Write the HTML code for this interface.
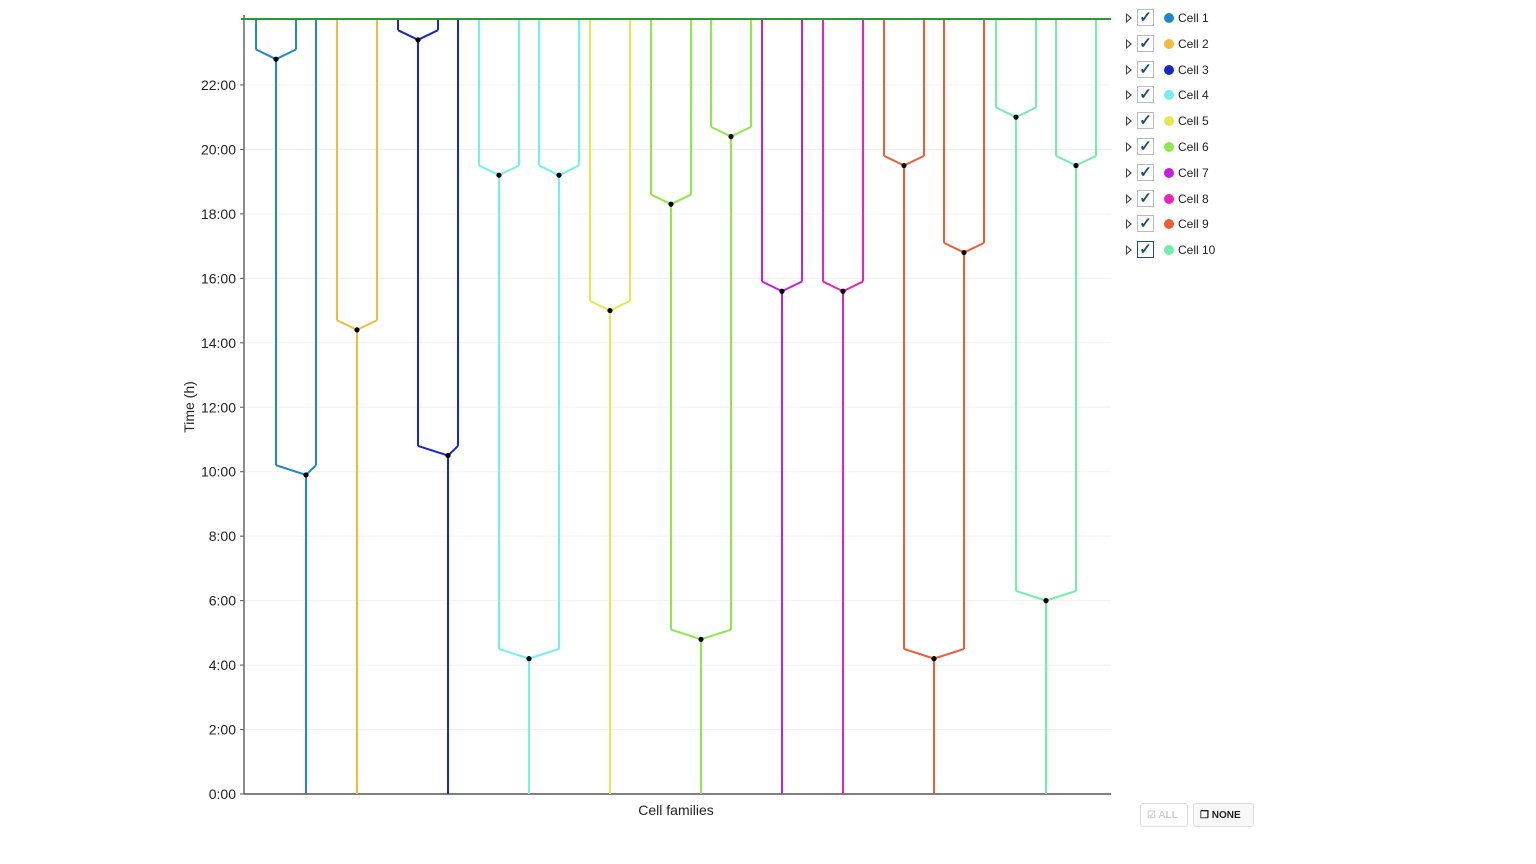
<!DOCTYPE html>
<html><head><meta charset="utf-8">
<style>
body{margin:0;width:1536px;height:864px;background:#fff;font-family:"Liberation Sans",sans-serif;overflow:hidden;position:relative}
#legend{position:absolute;left:1124px;top:8px}
.li{position:absolute;left:0;height:20px;width:120px}
.tri{position:absolute;left:2px;top:5px;width:0;height:0;border-left:6px solid #444;border-top:5px solid transparent;border-bottom:5px solid transparent}
.tri:after{content:"";position:absolute;left:-5px;top:-3px;border-left:3px solid #fff;border-top:3px solid transparent;border-bottom:3px solid transparent}
.cb{position:absolute;left:13px;top:1px;width:17px;height:17px;border:1px solid #bbb;box-sizing:border-box;color:#1a4f7a;font-size:15px;line-height:16px;text-align:center;font-weight:bold}
.dot{position:absolute;left:40px;top:5px;width:10px;height:10px;border-radius:50%}
.lbl{position:absolute;left:54px;top:3px;font-size:12px;color:#222}
.btn{position:absolute;top:803px;height:24px;border:1px solid #ddd;border-radius:3px;font-size:10px;font-weight:bold;line-height:24px;box-sizing:border-box}
</style></head><body>
<svg id="chart" width="1536" height="864" style="position:absolute;left:0;top:0"></svg>
<div id="legend"></div>
<div class="btn" style="left:1140px;width:48px;color:#ccc;padding-left:6px">☑ ALL</div>
<div class="btn" style="left:1193px;width:61px;color:#222;padding-left:6px;background:#f8f8f8">❐ NONE</div>
<script>
const names=["Cell 1","Cell 2","Cell 3","Cell 4","Cell 5","Cell 6","Cell 7","Cell 8","Cell 9","Cell 10"];
const colors=["#1f88c8","#f2bb3c","#1428cc","#72f0f0","#e4e84c","#8ee84c","#c41ee2","#ea22b8","#f25c34","#6ef0aa"];
// division trees: [time, leftChild, rightChild]; null = leaf
const trees=[
 [9.9,[22.8,null,null],null],
 [14.4,null,null],
 [10.5,[23.4,null,null],null],
 [4.2,[19.2,null,null],[19.2,null,null]],
 [15.0,null,null],
 [4.8,[18.3,null,null],[20.4,null,null]],
 [15.6,null,null],
 [15.6,null,null],
 [4.2,[19.5,null,null],[16.8,null,null]],
 [6.0,[21.0,null,null],[19.5,null,null]]
];
const yTicks=["0:00","2:00","4:00","6:00","8:00","10:00","12:00","14:00","16:00","18:00","20:00","22:00"];
const maxH=24;
const X0=244,X1=1111,Y0=794,Ytop=20.5;
const gaps=[21,21,21,11,21,11,21,21,12];
const y=h=>Y0-h*(Y0-Ytop)/maxH;
const svg=document.getElementById('chart');
const NS="http://www.w3.org/2000/svg";
function mk(t,a,p){const e=document.createElementNS(NS,t);for(const k in a)e.setAttribute(k,a[k]);(p||svg).appendChild(e);return e;}
yTicks.forEach((lab,i)=>{const yy=y(i*2);
 const g=mk('line',{x1:X0,x2:X1,y1:yy,y2:yy,stroke:'#f0f0f0','stroke-width':1});
 
 mk('line',{x1:X0-4,x2:X0,y1:yy,y2:yy,stroke:'#555'});
 const t=mk('text',{x:X0-8,y:yy+5,'text-anchor':'end','font-size':14,fill:'#222','font-family':'Liberation Sans'});t.textContent=lab;
 
});
let ax=mk('line',{x1:X0,x2:X0,y1:15,y2:Y0,stroke:'#666','stroke-width':1.5});

ax=mk('line',{x1:X0,x2:X1,y1:Y0,y2:Y0,stroke:'#555','stroke-width':1.5});

let tt=mk('text',{x:676,y:815,'text-anchor':'middle','font-size':14,fill:'#222'});tt.textContent="Cell families";

tt=mk('text',{x:0,y:0,transform:'translate(194,407) rotate(-90)','text-anchor':'middle','font-size':14,fill:'#222'});tt.textContent="Time (h)";

function offs(n){const bothLeaf=!n[1]&&!n[2];return [bothLeaf?-20:(n[1]?-30:-10), bothLeaf?20:(n[2]?30:10)];}
function extent(n){if(!n)return [0,0];
 const [l,r]=offs(n);
 const el=extent(n[1]),er=extent(n[2]);return [Math.min(l+el[0],0),Math.max(r+er[1],0)];}
const dots=[];
function draw(n,x,t0,col,g){
 const tEnd=n?n[0]:maxH;
 mk('line',{x1:x,x2:x,y1:y(t0),y2:n?y(tEnd):19,stroke:col,'stroke-width':2},g);
 if(!n)return;
 const [l,r]=offs(n);
 const tc=n[0]+0.3;
 [[n[1],l],[n[2],r]].forEach(([c,o])=>{
  mk('line',{x1:x,y1:y(n[0]),x2:x+o,y2:y(tc),stroke:col,'stroke-width':2},g);
  draw(c,x+o,tc,col,g);});
 dots.push([x,y(n[0])]);
}
let cursor=256;
trees.forEach((tr,i)=>{
 const e=extent(tr);const rx=cursor-e[0];cursor=rx+e[1]+(gaps[i]||20);
 const g=mk('g',{});
 draw(tr,rx,0,colors[i],g);
});
dots.forEach(d=>{const c=mk('circle',{cx:d[0],cy:d[1],r:2.6,fill:'#000'});
 });
const endLine=mk('line',{x1:241,x2:X1,y1:19,y2:19,stroke:'#2a9a2a','stroke-width':2});

const lg=document.getElementById('legend');
names.forEach((nm,i)=>{const d=document.createElement('div');d.className='li';d.style.top=(i*25.8)+'px';
 
 
 d.innerHTML='<div class="tri"></div><div class="cb"'+(i==9?' style="border-color:#1a4f7a"':'')+'>✓</div><div class="dot" style="background:'+colors[i]+'"></div><div class="lbl">'+nm+'</div>';
 lg.appendChild(d);});
</script>
</body></html>
